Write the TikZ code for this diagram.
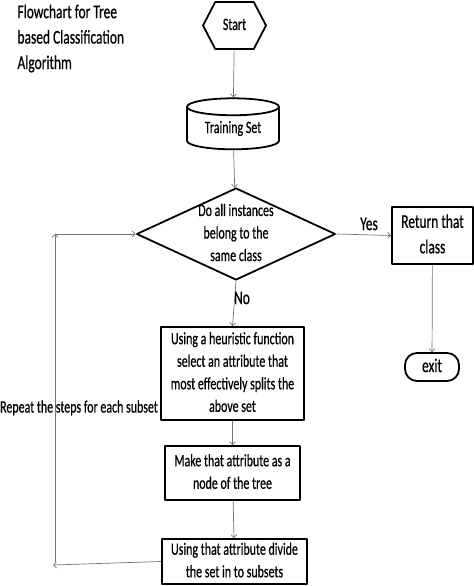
\documentclass[tikz,border=0pt]{standalone}
\usepackage{fontspec}
\setmainfont{Carlito}[RawFeature={embolden=0.7}]
\usepackage{graphicx}
\usetikzlibrary{shapes.geometric,shapes.symbols,arrows.meta}
\newcommand{\tall}[2][c]{\scalebox{1}[1.45]{\begin{tabular}{@{}#1@{}}#2\end{tabular}}}

\begin{document}
\begin{tikzpicture}[>={Straight Barb[length=3bp,width=6bp]},line join=bevel,
  font=\fontsize{12}{15.6}\selectfont,
  big/.style={font=\fontsize{13.5}{17.6}\selectfont},
  box/.style={draw,line width=1.8bp,inner sep=0pt},
  stepbox/.style={box,rectangle},
  flow/.style={->,draw=gray!90!black,line width=0.7bp},
  ]
\useasboundingbox (0bp,0bp) rectangle (474bp,586bp);
%%
  \node (title) at (14bp,547.5bp) [anchor=west,big] {\tall[l]{Flowchart for Tree\\based Classification\\Algorithm}};
  \node (start) at (234.5bp,560.5bp) [box,signal,signal to=west and east,signal pointer angle=125,minimum width=63bp,minimum height=47bp] {\tall{Start}};
  \node (training_set) at (233bp,457.5bp) [box,cylinder,shape border rotate=90,aspect=0.3,minimum width=92bp,minimum height=51bp] {\tall{Training Set}};
  \node (decision) at (236bp,352bp) [box,diamond,minimum width=199bp,minimum height=92bp,label=center:{\tall{Do all instances\\belong to the\\same class}}] {};
  \node (return_class) at (432.5bp,350.5bp) [stepbox,big,minimum width=81bp,minimum height=57bp] {\tall{Return that\\class}};
  \node (exit_node) at (432bp,219bp) [box,big,rounded corners=12bp,minimum width=54bp,minimum height=28bp] {\tall{exit}};
  \node (step1) at (232.5bp,212.5bp) [stepbox,minimum width=143bp,minimum height=93bp] {\tall{Using a heuristic function\\select an attribute that\\most effectively splits the\\above set}};
  \node (step2) at (232.5bp,113bp) [stepbox,minimum width=135bp,minimum height=54bp] {\tall{Make that attribute as a\\node of the tree}};
  \node (step3) at (234.5bp,24.5bp) [stepbox,minimum width=145bp,minimum height=45bp] {\tall{Using that attribute divide\\the set in to subsets}};
  \coordinate (loop_b) at (53bp,21bp);
  \coordinate (loop_t) at (55bp,352bp);

  \draw [flow] (start) -- (training_set);
  \draw [flow] (training_set) -- (decision);
  \draw [flow] (decision.east) -- (return_class.west);
  \draw (369bp,361bp) node [big] {\tall{Yes}};
  \draw [flow] (return_class) -- (exit_node);
  \draw [flow] (decision.south) -- (step1.north);
  \draw (242bp,287bp) node [big] {\tall{No}};
  \draw [flow] (step1) -- (step2);
  \draw [flow] (step2) -- (step3);
  \draw [flow] (step3.west) -- (loop_b);
  \draw [flow] ([xshift=2bp,yshift=3bp]loop_b) -- (loop_t);
  \draw [flow] (loop_t) -- (decision.west);
  \draw (79bp,178bp) node {\tall{Repeat the steps for each subset}};
%
\end{tikzpicture}
\end{document}
